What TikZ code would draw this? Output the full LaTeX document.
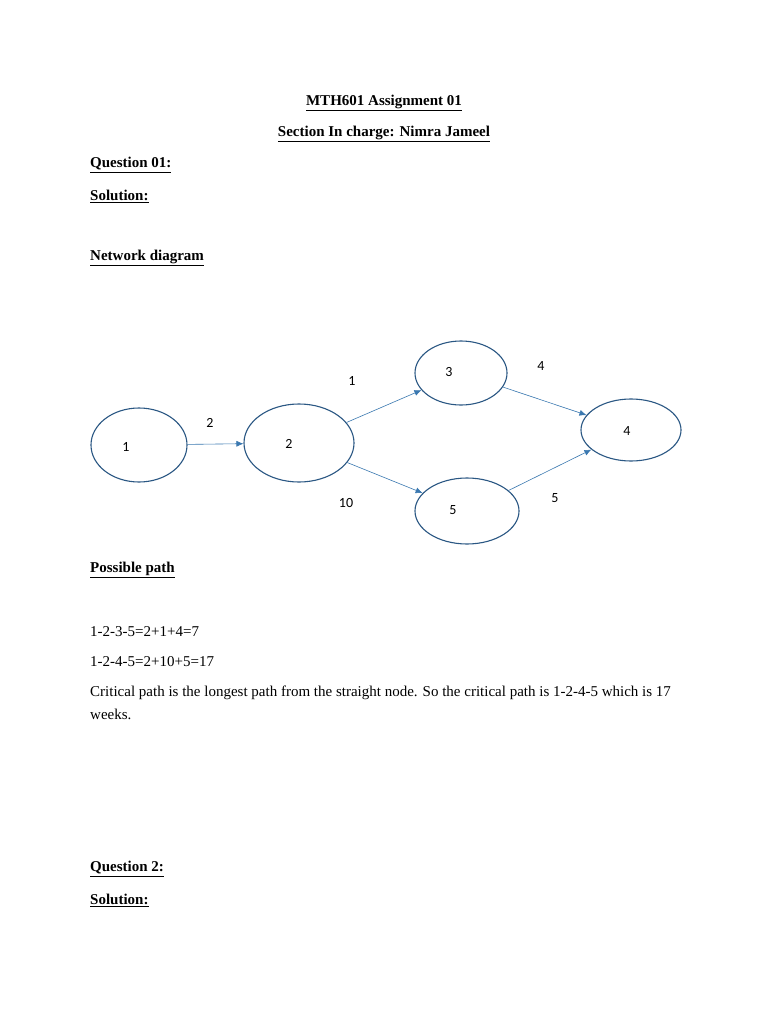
\documentclass[tikz,border=0pt]{standalone}
\usepackage{fontspec}
\setmainfont{Liberation Serif}
\newfontfamily\lblfont{Carlito}
\usetikzlibrary{shapes.geometric,arrows.meta}
\definecolor{ell}{HTML}{2A5783}
\definecolor{arr}{HTML}{3A78B0}
\tikzset{
  txt/.style={anchor=west,inner sep=0pt,font=\fontsize{15}{18}\selectfont},
  ttl/.style={anchor=center,inner sep=0pt,font=\fontsize{15}{18}\selectfont\bfseries},
  ev/.style={ellipse,draw=ell,line width=1.1pt},
  lbl/.style={inner sep=0pt,font=\lblfont\fontsize{14}{16}\selectfont},
  con/.style={draw=arr,line width=0.6pt,-{Latex[length=7pt,width=6pt]}}
}
\begin{document}
\begin{tikzpicture}[x=1pt,y=-1pt]
\useasboundingbox (0,0) rectangle (768,1024);
\fill[white] (0,0) rectangle (768,1024);
\node[ttl] (t1) at (384,103) {\underline{MTH601 Assignment 01}};
\node[ttl] (t2) at (384,134) {\underline{Section In charge: Nimra Jameel}};
\node[txt,font=\fontsize{15}{18}\selectfont\bfseries] (q1) at (90,165) {\underline{Question 01:}};
\node[txt,font=\fontsize{15}{18}\selectfont\bfseries] (s1) at (90,196) {\underline{Solution:}};
\node[txt,font=\fontsize{15}{18}\selectfont\bfseries] (nd) at (90,258) {\underline{Network diagram}};

\node[ev,minimum width=96pt,minimum height=74pt] (n1) at (139,445) {};
\node[ev,minimum width=110pt,minimum height=78pt] (n2) at (299,443) {};
\node[ev,minimum width=92pt,minimum height=64pt] (n3) at (461,373) {};
\node[ev,minimum width=104pt,minimum height=66pt] (n5) at (467,511) {};
\node[ev,minimum width=100pt,minimum height=62pt] (n4) at (631,430) {};
\node[lbl] (l1) at (126,447) {1};
\node[lbl] (l2) at (289,444) {2};
\node[lbl] (l3) at (449,372) {3};
\node[lbl] (l5) at (453,510) {5};
\node[lbl] (l4) at (627,431) {4};

\draw[con] (n1) -- (n2);
\draw[con] (n2) -- (n3);
\draw[con] (n3) -- (n4);
\draw[con] (n2) -- (n5);
\draw[con] (n5) -- (n4);
\node[lbl] (e12) at (210,423) {2};
\node[lbl] (e23) at (352,381) {1};
\node[lbl] (e34) at (541,366) {4};
\node[lbl] (e25) at (346,503) {10};
\node[lbl] (e54) at (555,498) {5};

\node[txt,font=\fontsize{15}{18}\selectfont\bfseries] (pp) at (90,570) {\underline{Possible path}};
\node[txt] (p1) at (90,632) {1-2-3-5=2+1+4=7};
\node[txt] (p2) at (90,662) {1-2-4-5=2+10+5=17};
\node[txt] (c1) at (90,693) {Critical path is the longest path from the straight node. So the critical path is 1-2-4-5 which is 17};
\node[txt] (c2) at (90,714) {weeks.};
\node[txt,font=\fontsize{15}{18}\selectfont\bfseries] (q2) at (90,869) {\underline{Question 2:}};
\node[txt,font=\fontsize{15}{18}\selectfont\bfseries] (s2) at (90,900) {\underline{Solution:}};
\end{tikzpicture}
\end{document}
